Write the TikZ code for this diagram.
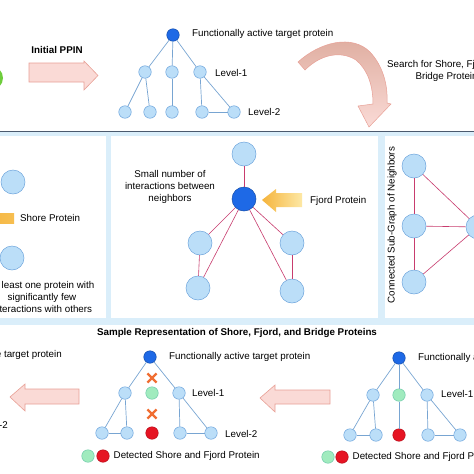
\documentclass[tikz,border=0pt]{standalone}
\usepackage{fontspec}
\setmainfont{Liberation Sans}
\usetikzlibrary{positioning, shapes.misc}
\definecolor{nodeblue}{RGB}{187,222,248}
\definecolor{nodeedge}{RGB}{110,165,220}
\definecolor{targetblue}{RGB}{30,105,230}
\definecolor{treeline}{RGB}{120,165,210}
\definecolor{linkred}{RGB}{200,60,110}
\definecolor{bandblue}{RGB}{218,238,250}
\definecolor{rulegray}{RGB}{75,90,110}
\definecolor{arrowpink}{RGB}{250,218,214}
\definecolor{arrowedge}{RGB}{232,160,150}
\definecolor{arrowbrown}{RGB}{222,172,158}
\definecolor{shoregreen}{RGB}{160,235,190}
\definecolor{fjordred}{RGB}{230,20,35}
\definecolor{crossorange}{RGB}{240,110,50}
\definecolor{fjordyellow}{RGB}{245,180,60}
\definecolor{paleyellow}{RGB}{253,232,165}
\definecolor{startgreen}{RGB}{110,205,60}

\begin{document}
\begin{tikzpicture}[
        x=1pt, y=-1pt,
        font=\fontsize{9.8}{12.2}\selectfont,
        tnode/.style={circle, fill=nodeblue, draw=nodeedge, line width=0.5pt, minimum size=12.5pt, inner sep=0pt},
        bignode/.style={tnode, minimum size=24pt},
        target/.style={fill=targetblue, draw=targetblue!75!black},
        shore/.style={fill=shoregreen, draw=shoregreen!70!teal},
        fjord/.style={fill=fjordred, draw=fjordred!80!black},
        tline/.style={draw=treeline, line width=0.7pt},
        rline/.style={draw=linkred, line width=0.6pt},
        crossmark/.style={cross out, draw=crossorange, line width=2.2pt, minimum size=7pt, inner sep=0pt},
        lbl/.style={anchor=west, inner sep=0pt},
        pinkarrow/.style={fill=arrowpink, draw=arrowedge, line width=0.6pt}
    ]
        \useasboundingbox (0,0) rectangle (474,474);
        \clip (0,0) rectangle (474,474);

        % Middle band and its panels
        \fill[bandblue] (0,132) rectangle (474,325);
        \draw[rulegray, line width=1pt] (0,131.5) -- (474,131.5);
        \fill[white] (0,136) rectangle (106,318);
        \fill[white] (111,136) rectangle (378,318);
        \fill[white] (385,136) rectangle (474,318);

        % Top row: initial PPIN
        \node[circle, fill=startgreen, minimum size=24pt] (start) at (-9,78) {};
        \node[font=\fontsize{9.8}{12.2}\selectfont\bfseries] (ppin) at (57,50) {Initial PPIN};
        \draw[pinkarrow] (29,63) -- (84,63) -- (84,61) -- (98,75.5) -- (84,90) -- (84,82) -- (29,82) -- cycle;

        \node[tnode, target] (r1) at (173,35) {};
        \node[tnode] (a1) at (145,72) {};
        \node[tnode] (b1) at (172,72) {};
        \node[tnode] (c1) at (200,72) {};
        \node[tnode] (a1l) at (125,112) {};
        \node[tnode] (a1r) at (150,112) {};
        \node[tnode] (b1d) at (172,112) {};
        \node[tnode] (c1l) at (202,112) {};
        \node[tnode] (c1r) at (234,112) {};
        \draw[tline] (r1) -- (a1);
        \draw[tline] (r1) -- (b1);
        \draw[tline] (r1) -- (c1);
        \draw[tline] (a1) -- (a1l);
        \draw[tline] (a1) -- (a1r);
        \draw[tline] (b1) -- (b1d);
        \draw[tline] (c1) -- (c1l);
        \draw[tline] (c1) -- (c1r);
        \draw[tline] (c1l) -- (c1r);
        \node[lbl] (t1) at (192,34) {Functionally active target protein};
        \node[lbl] (l11) at (215,73) {Level-1};
        \node[lbl] (l12) at (248,112) {Level-2};

        % Curved search arrow
        \shade[top color=arrowbrown, bottom color=arrowpink, draw=arrowedge, line width=0.5pt]
            (298,62) .. controls (320,42) and (352,34) .. (370,52)
            .. controls (383,66) and (388,85) .. (387,103)
            -- (391,104) -- (369,127) -- (358,106) -- (373,104)
            .. controls (373,86) and (368,70) .. (356,60)
            .. controls (340,50) and (320,55) .. (305,70) -- cycle;
        \node[align=center, inner sep=0pt] (search) at (449,71) {Search for Shore, Fjord, and\\Bridge Proteins};

        % Left panel: shore protein
        \node[bignode] (lc1) at (13,182) {};
        \node[bignode] (lc2) at (12,258) {};
        \shade[left color=fjordyellow, right color=fjordyellow!80!paleyellow] (-20,213) rectangle (14,223);
        \node[lbl] (shorelbl) at (20,218) {Shore Protein};
        \node[align=center, inner sep=0pt] (shoretxt) at (42,297) {At least one protein with\\significantly few\\interactions with others};

        % Middle panel: fjord protein
        \node[align=center, inner sep=0pt] (fewtxt) at (170,187) {Small number of\\interactions between\\neighbors};
        \node[bignode] (top) at (244,154) {};
        \node[bignode, target] (fj) at (244,199) {};
        \node[bignode] (nl1) at (200,243) {};
        \node[bignode] (nl2) at (198,288) {};
        \node[bignode] (nr1) at (292,243) {};
        \node[bignode] (nr2) at (292,291) {};
        \draw[rline] (top) -- (fj);
        \draw[rline] (fj) -- (nl1);
        \draw[rline] (fj) -- (nl2);
        \draw[rline] (nl1) -- (nl2);
        \draw[rline] (fj) -- (nr1);
        \draw[rline] (fj) -- (nr2);
        \draw[rline] (nr1) -- (nr2);
        \shade[left color=fjordyellow, right color=paleyellow]
            (262,200) -- (276,189) -- (276,193) -- (302,193) -- (302,207) -- (276,207) -- (276,212) -- cycle;
        \node[lbl] (fjordlbl) at (310,201) {Fjord Protein};

        % Right panel: bridge sub-graph
        \node[rotate=90, inner sep=0pt] (subtxt) at (392,225) {Connected Sub-Graph of Neighbors};
        \node[bignode] (s1) at (414,166) {};
        \node[bignode] (s2) at (414,226) {};
        \node[bignode] (s3) at (414,282) {};
        \node[bignode] (sr) at (478,227) {};
        \draw[rline] (s1) -- (s2);
        \draw[rline] (s2) -- (s3);
        \draw[rline] (s1) -- (sr);
        \draw[rline] (s2) -- (sr);
        \draw[rline] (s3) -- (sr);

        % Bottom row
        \node[font=\fontsize{9.8}{12.2}\selectfont\bfseries] (sample) at (237,333) {Sample Representation of Shore, Fjord, and Bridge Proteins};

        % left cut-off tree
        \node[anchor=east, inner sep=0pt] (t0) at (62,355) {Functionally active target protein};
        \node[anchor=east, inner sep=0pt] (l02) at (8,425) {Level-2};
        \draw[pinkarrow] (10,397) -- (25,384) -- (25,389) -- (79,389) -- (79,404) -- (25,404) -- (25,411) -- cycle;

        % tree with broken links
        \node[tnode, target] (r2) at (150,357) {};
        \node[crossmark] (x2a) at (152,378) {};
        \node[tnode] (a2) at (125,393) {};
        \node[tnode, shore] (s2n) at (152,393) {};
        \node[tnode] (c2) at (179,393) {};
        \node[crossmark] (x2b) at (152,414) {};
        \node[tnode] (a2l) at (102,433) {};
        \node[tnode] (a2r) at (127,433) {};
        \node[tnode, fjord] (f2) at (152,433) {};
        \node[tnode] (c2l) at (180,433) {};
        \node[tnode] (c2r) at (211,433) {};
        \draw[tline] (r2) -- (a2);
        \draw[tline] (r2) -- (c2);
        \draw[tline] (a2) -- (a2l);
        \draw[tline] (a2) -- (a2r);
        \draw[tline] (a2l) -- (a2r);
        \draw[tline] (c2) -- (c2l);
        \draw[tline] (c2) -- (c2r);
        \draw[tline] (c2l) -- (c2r);
        \node[lbl] (t2) at (169,357) {Functionally active target protein};
        \node[lbl] (l21) at (192,393) {Level-1};
        \node[lbl] (l22) at (225,434) {Level-2};
        \node[tnode, shore] (g2) at (88,456) {};
        \node[tnode, fjord] (k2) at (103,456) {};
        \node[lbl, right=4pt of k2] (d2) {Detected Shore and Fjord Protein};

        \draw[pinkarrow] (260,398) -- (275,385) -- (275,390) -- (330,390) -- (330,404) -- (275,404) -- (275,412) -- cycle;

        % tree with detected proteins
        \node[tnode, target] (r3) at (399,358) {};
        \node[tnode] (a3) at (373,395) {};
        \node[tnode, shore] (s3n) at (399,395) {};
        \node[tnode] (c3) at (427,395) {};
        \node[tnode] (a3l) at (350,435) {};
        \node[tnode] (a3r) at (376,435) {};
        \node[tnode, fjord] (f3) at (399,435) {};
        \node[tnode] (c3l) at (428,435) {};
        \node[tnode] (c3r) at (460,435) {};
        \draw[tline] (r3) -- (a3);
        \draw[tline] (r3) -- (s3n);
        \draw[tline] (r3) -- (c3);
        \draw[tline] (s3n) -- (f3);
        \draw[tline] (a3) -- (a3l);
        \draw[tline] (a3) -- (a3r);
        \draw[tline] (a3l) -- (a3r);
        \draw[tline] (c3) -- (c3l);
        \draw[tline] (c3) -- (c3r);
        \draw[tline] (c3l) -- (c3r);
        \node[lbl] (t3) at (418,358) {Functionally active target protein};
        \node[lbl] (l31) at (441,394) {Level-1};
        \node[tnode, shore] (g3) at (328,457) {};
        \node[tnode, fjord] (k3) at (342,457) {};
        \node[lbl, right=4pt of k3] (d3) {Detected Shore and Fjord Protein};
    \end{tikzpicture}
\end{document}
